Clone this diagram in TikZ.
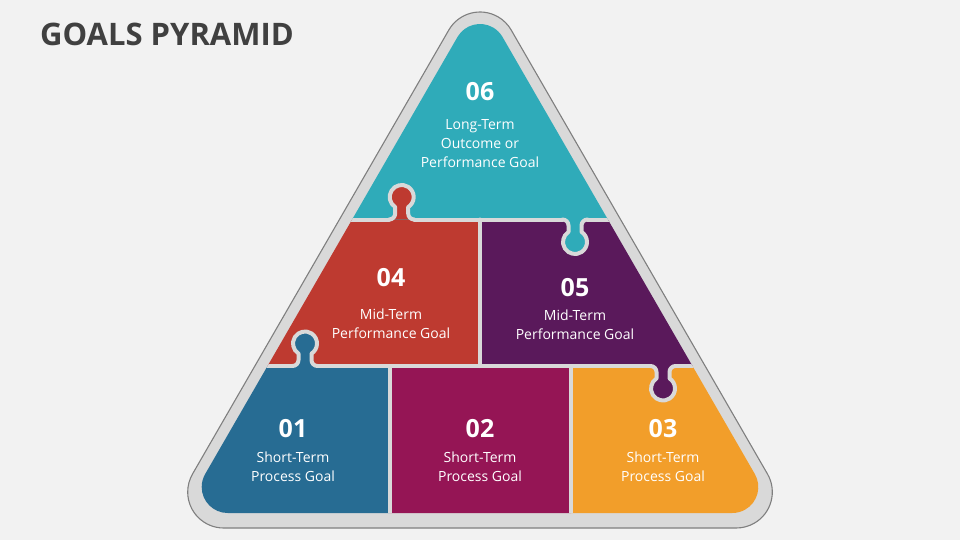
\documentclass[tikz,border=0pt]{standalone}
\usepackage{fontspec}
\setmainfont{Open Sans}
\definecolor{bgc}{HTML}{F2F2F2}
\definecolor{framec}{HTML}{D9D9D9}
\definecolor{framel}{HTML}{7F7F7F}
\definecolor{teal6}{HTML}{2FABB9}
\definecolor{red4}{HTML}{BE3A30}
\definecolor{purp5}{HTML}{5A195B}
\definecolor{blue1}{HTML}{276C93}
\definecolor{mag2}{HTML}{951555}
\definecolor{orng3}{HTML}{F29E2A}
\definecolor{titlec}{HTML}{404040}
\newcommand{\knobpath}{(-12.5,0) .. controls (-9.19,0) and (-6.5,2.69) .. (-6.5,6) -- (-6.5,12.41) arc[start angle=237.2, end angle=-57.2, radius=12] -- (6.5,6) .. controls (6.5,2.69) and (9.19,0) .. (12.5,0)}
\newcommand{\outertri}{(448.82,30) arc[start angle=210, end angle=330, radius=36] -- (767.48,474) arc[start angle=330, end angle=450, radius=36] -- (223.7,528) arc[start angle=90, end angle=210, radius=36] -- cycle}
\newcommand{\innertri}{(457.48,37) arc[start angle=210, end angle=330, radius=26] -- (754.82,474) arc[start angle=330, end angle=450, radius=26] -- (227.7,513) arc[start angle=90, end angle=210, radius=26] -- cycle}
\tikzset{
  sepline/.style={draw=framec, line width=4pt, line cap=round, line join=round},
  numtxt/.style={text=white, font=\bfseries\fontsize{25}{30}\selectfont, anchor=base, inner sep=0pt},
  lbltxt/.style={text=white, font=\fontsize{14}{19}\selectfont, anchor=base, inner sep=0pt},
}
\begin{document}
\begin{tikzpicture}[x=1pt,y=-1pt]
\useasboundingbox (0,0) rectangle (960,540);
\fill[bgc] (0,0) rectangle (960,540);
% title
\node[anchor=base west, inner sep=0pt, text=titlec, font=\bfseries\fontsize{31}{37}\selectfont] (title) at (40,46) {GOALS PYRAMID};
% frame
\fill[framec] \outertri;
\draw[framel, line width=1.1pt] \outertri;
% pieces
\begin{scope}
\clip \innertri;
\fill[teal6] (150,0) rectangle (810,219.5);
\fill[red4] (150,219.5) rectangle (480,366);
\fill[purp5] (480,219.5) rectangle (810,366);
\fill[blue1] (150,366) rectangle (389.5,540);
\fill[mag2] (389.5,366) rectangle (570.5,540);
\fill[orng3] (570.5,366) rectangle (810,540);
% knobs
\begin{scope}[shift={(401.7,219.5)},yscale=-1] \fill[red4] \knobpath -- cycle; \end{scope}
\begin{scope}[shift={(575,219.5)}] \fill[teal6] \knobpath -- cycle; \end{scope}
\begin{scope}[shift={(305,366)},yscale=-1] \fill[blue1] \knobpath -- cycle; \end{scope}
\begin{scope}[shift={(663,366)}] \fill[purp5] \knobpath -- cycle; \end{scope}
% separators
\draw[sepline] (150,219.5) -- (389.2,219.5);
\draw[sepline] (414.2,219.5) -- (562.5,219.5);
\draw[sepline] (587.5,219.5) -- (810,219.5);
\draw[sepline] (480,219.5) -- (480,366);
\draw[sepline] (150,366) -- (292.5,366);
\draw[sepline] (317.5,366) -- (650.5,366);
\draw[sepline] (675.5,366) -- (810,366);
\draw[sepline] (389.5,366) -- (389.5,540);
\draw[sepline] (570.5,366) -- (570.5,540);
\begin{scope}[shift={(401.7,219.5)},yscale=-1] \draw[sepline] \knobpath; \end{scope}
\begin{scope}[shift={(575,219.5)}] \draw[sepline] \knobpath; \end{scope}
\begin{scope}[shift={(305,366)},yscale=-1] \draw[sepline] \knobpath; \end{scope}
\begin{scope}[shift={(663,366)}] \draw[sepline] \knobpath; \end{scope}
\end{scope}
% texts
\node[numtxt] (n6) at (480,101) {06};
\node[lbltxt] (l6a) at (480,129.5) {Long-Term};
\node[lbltxt] (l6b) at (480,148.5) {Outcome or};
\node[lbltxt] (l6c) at (480,167.5) {Performance Goal};
\node[numtxt] (n4) at (391,286) {04};
\node[lbltxt] (l4a) at (391,319) {Mid-Term};
\node[lbltxt] (l4b) at (391,338) {Performance Goal};
\node[numtxt] (n5) at (575,296) {05};
\node[lbltxt] (l5a) at (575,320) {Mid-Term};
\node[lbltxt] (l5b) at (575,339) {Performance Goal};
\node[numtxt] (n1) at (293,437) {01};
\node[lbltxt] (l1a) at (293,462) {Short-Term};
\node[lbltxt] (l1b) at (293,481) {Process Goal};
\node[numtxt] (n2) at (480,437) {02};
\node[lbltxt] (l2a) at (480,462) {Short-Term};
\node[lbltxt] (l2b) at (480,481) {Process Goal};
\node[numtxt] (n3) at (663,437) {03};
\node[lbltxt] (l3a) at (663,462) {Short-Term};
\node[lbltxt] (l3b) at (663,481) {Process Goal};
\end{tikzpicture}
\end{document}
